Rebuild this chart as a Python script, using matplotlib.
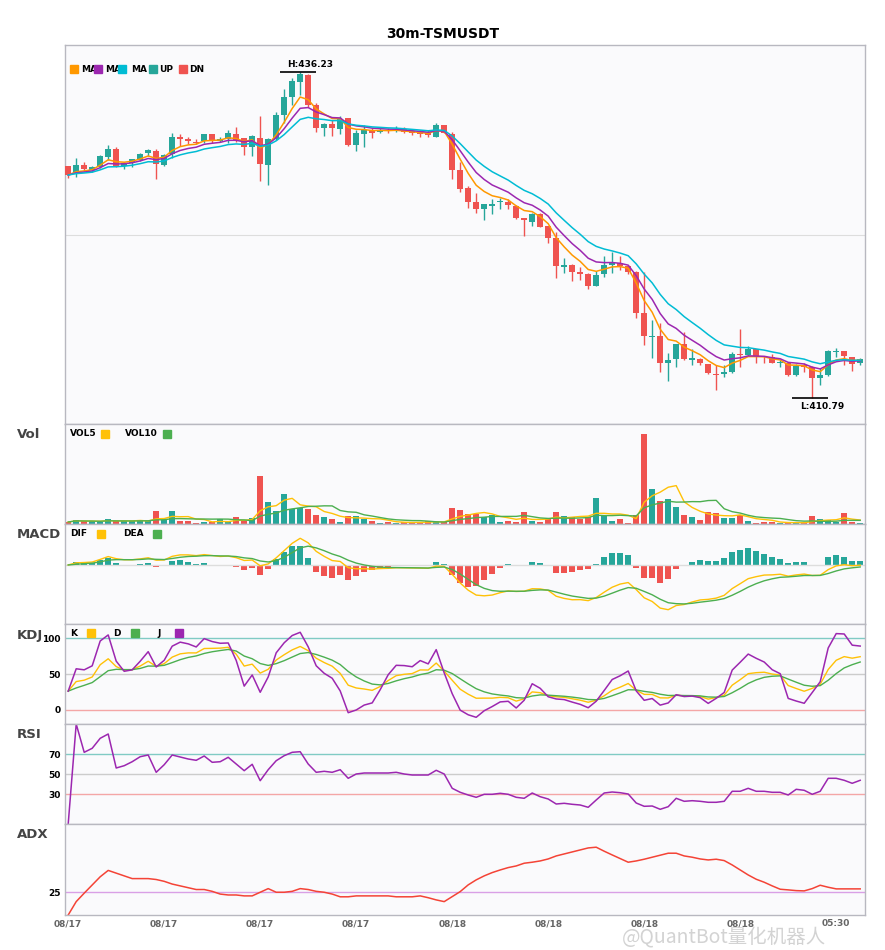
import numpy as np
import pandas as pd
import matplotlib
matplotlib.use("Agg")
import matplotlib.pyplot as plt
from matplotlib.patches import Rectangle

# 30m candles, TSMUSDT
open_ = [428.89, 428.33, 428.95, 428.58, 428.84, 429.62, 430.20, 428.89, 429.11, 429.36,
         429.93, 430.07, 428.97, 429.83, 431.16, 431.00, 430.79, 430.81, 431.38, 430.85,
         430.98, 431.39, 431.08, 430.40, 431.06, 428.97, 431.00, 432.87, 434.30, 435.47,
         436.03, 433.66, 431.90, 432.17, 431.78, 432.62, 430.53, 431.43, 431.70, 431.57,
         431.70, 431.65, 431.81, 431.65, 431.63, 431.49, 431.18, 432.09, 431.39, 428.58,
         427.15, 426.11, 425.54, 425.77, 426.09, 426.11, 425.77, 424.84, 424.55, 425.15,
         424.21, 423.25, 421.04, 421.17, 420.60, 420.47, 419.55, 420.44, 421.17, 421.30,
         421.11, 420.65, 417.42, 415.57, 415.63, 413.54, 413.81, 414.98, 413.75, 413.83,
         413.44, 412.66, 412.64, 412.84, 414.22, 414.15, 414.59, 414.01, 414.01, 413.50,
         413.50, 412.58, 413.36, 413.23, 412.33, 412.58, 414.40, 414.46, 413.97, 413.50]
high = [428.93, 429.50, 429.18, 428.89, 429.73, 430.53, 430.34, 429.23, 429.46, 429.89,
        430.20, 430.22, 429.81, 431.45, 431.39, 431.13, 430.98, 431.39, 431.41, 431.18,
        431.74, 431.91, 431.12, 431.29, 432.80, 431.08, 433.13, 434.88, 435.76, 436.23,
        436.07, 433.79, 432.23, 432.45, 432.76, 432.66, 431.70, 432.06, 431.86, 431.84,
        431.84, 432.02, 431.96, 431.70, 431.70, 431.70, 432.27, 432.13, 431.57, 429.23,
        427.33, 426.81, 425.95, 426.30, 426.37, 426.30, 425.85, 424.86, 425.20, 425.20,
        424.24, 423.77, 421.69, 421.25, 421.04, 420.52, 420.70, 421.87, 422.21, 421.87,
        421.17, 420.70, 420.65, 416.88, 416.62, 414.28, 415.00, 415.92, 414.59, 413.89,
        413.47, 413.36, 413.36, 414.40, 416.17, 414.85, 414.61, 414.07, 414.22, 413.75,
        413.52, 413.44, 413.50, 413.29, 413.11, 414.54, 414.67, 414.48, 414.01, 413.89]
low = [427.93, 428.01, 428.50, 428.45, 428.72, 429.36, 428.82, 428.64, 428.84, 429.28,
       429.64, 427.86, 428.93, 429.52, 430.46, 430.59, 430.59, 430.71, 430.71, 430.74,
       430.67, 430.77, 429.75, 429.64, 427.75, 427.41, 430.92, 432.27, 433.66, 434.44,
       433.52, 431.57, 431.24, 431.24, 431.39, 430.46, 430.10, 430.38, 431.08, 431.45,
       431.47, 431.52, 431.45, 431.29, 431.13, 431.13, 431.13, 431.45, 427.90, 426.89,
       425.59, 425.20, 424.68, 425.15, 425.52, 425.52, 424.74, 423.43, 424.21, 424.11,
       422.91, 420.18, 420.52, 419.92, 420.00, 419.27, 419.51, 420.21, 420.57, 420.78,
       420.47, 417.01, 414.93, 413.89, 412.84, 412.12, 413.23, 413.75, 413.36, 413.36,
       412.66, 411.41, 412.40, 412.76, 413.23, 414.07, 413.54, 413.50, 413.50, 413.23,
       412.53, 412.53, 412.84, 410.79, 411.80, 412.51, 414.01, 413.36, 412.92, 413.36]
close = [428.19, 428.97, 428.64, 428.79, 429.68, 430.22, 428.93, 429.11, 429.42, 429.81,
         430.14, 429.09, 429.79, 431.16, 431.00, 430.81, 430.71, 431.38, 430.96, 430.98,
         431.45, 430.92, 430.35, 431.21, 429.07, 431.04, 432.87, 434.28, 435.53, 436.07,
         433.66, 431.90, 432.17, 431.88, 432.56, 430.53, 431.49, 431.70, 431.49, 431.70,
         431.63, 431.73, 431.52, 431.45, 431.39, 431.31, 432.09, 431.49, 428.58, 427.08,
         426.11, 425.54, 425.93, 425.91, 426.16, 425.85, 424.86, 424.70, 425.15, 424.16,
         423.30, 421.11, 421.15, 420.65, 420.47, 419.55, 420.39, 421.17, 421.38, 421.09,
         420.65, 417.45, 415.65, 415.65, 413.50, 413.75, 414.98, 413.81, 413.91, 413.54,
         412.76, 412.58, 412.82, 414.22, 414.15, 414.61, 414.01, 413.97, 413.54, 413.57,
         412.58, 413.31, 413.19, 412.33, 412.58, 414.46, 414.48, 414.07, 413.42, 413.83]
volume = [200, 430, 270, 270, 200, 530, 270, 270, 270, 430,
          270, 1330, 430, 1330, 270, 330, 70, 230, 170, 500,
          200, 700, 270, 600, 4830, 2170, 1270, 3030, 1500, 1600,
          1530, 930, 670, 530, 230, 830, 830, 500, 270, 130,
          170, 70, 230, 170, 170, 300, 200, 230, 1630, 1430,
          1000, 1000, 670, 930, 170, 330, 230, 1230, 330, 170,
          500, 1230, 830, 670, 530, 670, 2630, 830, 330, 530,
          70, 930, 9030, 3530, 2330, 2530, 1730, 930, 730, 430,
          1230, 1130, 630, 630, 930, 330, 130, 230, 230, 70,
          70, 70, 170, 830, 530, 370, 230, 1130, 170, 70]
rsi = [0, 100, 71.7, 75.7, 85.7, 90, 56, 58.3, 62.3, 67.3,
       69, 51.7, 59.3, 69, 67, 65, 63.7, 68, 61.7, 62.3,
       66.7, 60, 53.3, 59.7, 43.3, 54.3, 63.3, 68.3, 71.7, 72.3,
       60, 51.7, 52.7, 51.7, 54.3, 45.7, 50, 51, 51, 51,
       51, 51.7, 50, 49, 49, 49, 53.7, 50, 35.7, 31.7,
       29, 26.7, 29.7, 29.7, 30.7, 29.7, 26.7, 25.7, 31, 27.3,
       25, 20, 20.7, 19.7, 19, 16.7, 24, 31, 32, 31.3,
       30, 21, 17.7, 18, 14.7, 17.3, 25.7, 22.7, 23.3, 22.7,
       21.7, 21.7, 22.7, 32.7, 32.7, 35.7, 32.7, 32.7, 31.7, 31.7,
       29, 34.7, 33.7, 29.7, 32.7, 45.7, 45.7, 43.7, 40.7, 43.7]
adx = [0, 14.7, 24, 33, 42, 49, 46, 43, 40, 40,
       40, 39, 37, 34, 32, 30, 28, 28, 26, 23,
       22, 22, 21, 21, 25, 29, 25, 25, 26, 29,
       28, 26, 25, 23, 20, 20, 21, 21, 21, 21,
       21, 20, 20, 20, 21, 19, 16.6, 14.7, 20.2, 25.7,
       33.1, 38.6, 43, 46.6, 49.5, 52.1, 53.9, 56.9, 58, 59.4,
       61.6, 64.9, 67.1, 69.3, 71.5, 73.7, 74.5, 70.1, 66, 62,
       58, 59.4, 61.3, 63.5, 65.7, 67.9, 67.9, 64.9, 63.5, 61.6,
       60.5, 61.3, 59.8, 55, 49.5, 44, 39.3, 36, 32, 28.3,
       27.6, 26.8, 26.5, 29, 32.7, 30.5, 28.7, 28.7, 28.7, 28.7]
tick_pos = [0, 12, 24, 36, 48, 60, 72, 84, 96]
tick_labels = ["08/17", "08/17", "08/17", "08/17", "08/18", "08/18", "08/18", "08/18", "05:30"]

df = pd.DataFrame({"open": open_, "high": high, "low": low, "close": close, "volume": volume})
x = np.arange(len(df))
up = df["close"] >= df["open"]

# indicators (fast settings, these line up with the source chart)
ma_fast = df["close"].ewm(span=5, adjust=False).mean()
ma_mid = df["close"].ewm(span=8, adjust=False).mean()
ma_slow = df["close"].ewm(span=13, adjust=False).mean()
vol5 = df["volume"].rolling(5, min_periods=1).mean()
vol10 = df["volume"].rolling(10, min_periods=1).mean()
dif = df["close"].ewm(span=6, adjust=False).mean() - df["close"].ewm(span=13, adjust=False).mean()
dea = dif.ewm(span=5, adjust=False).mean()
hist = 2 * (dif - dea)
low_n = df["low"].rolling(9, min_periods=1).min()
high_n = df["high"].rolling(9, min_periods=1).max()
rsv = (df["close"] - low_n) / (high_n - low_n) * 100
k = rsv.ewm(com=2, adjust=False).mean()
d = k.ewm(com=2, adjust=False).mean()
j = 3 * k - 2 * d

UP, DN = "#26a69a", "#ef5350"
C_MA = ["#ff9800", "#9c27b0", "#00bcd4"]
YEL, GRN, PUR = "#ffc107", "#4caf50", "#9c27b0"
BG = "#fafafc"
EDGE = "#b8b8c0"

W, H = 885, 950
fig = plt.figure(figsize=(W / 100, H / 100), dpi=100)


def panel(top, bottom):
    ax = fig.add_axes([65 / W, 1 - bottom / H, 800 / W, (bottom - top) / H])
    ax.set_facecolor(BG)
    for s in ax.spines.values():
        s.set_color(EDGE)
        s.set_linewidth(1)
    ax.set_xlim(-0.4, len(df) - 0.4)
    ax.tick_params(left=False, bottom=False, labelleft=False, labelbottom=False)
    return ax


def fx(px):
    return px / W


def fy(py):
    return 1 - py / H


def legend_item(px, py, label, color, sq_x):
    fig.text(fx(px), fy(py), label, fontsize=6.5, fontweight="bold", va="center", ha="left", zorder=3)
    fig.add_artist(Rectangle((fx(sq_x), fy(py + 4)), 8 / W, 8 / H, transform=fig.transFigure,
                             color=color, zorder=4))


# ---- price panel
ax = panel(45, 424)
colors = np.where(up, UP, DN)
ax.vlines(x, df["low"], df["high"], colors=colors, lw=1, zorder=2)
body = np.maximum((df["close"] - df["open"]).abs(), 0.03)
ax.bar(x, body, bottom=np.minimum(df["open"], df["close"]), width=0.72, color=colors, zorder=3)
for line, c in zip([ma_fast, ma_mid, ma_slow], C_MA):
    ax.plot(x, line, color=c, lw=1.1, zorder=4)
rng = df["high"].max() - df["low"].min()
lo, hi = df["low"].min() - 0.08 * rng, df["high"].max() + 0.083 * rng
ax.set_ylim(lo, hi)
ax.axhline((lo + hi) / 2, color="#dddddd", lw=0.8, zorder=1)
ih, il = int(df["high"].idxmax()), int(df["low"].idxmin())
ax.hlines(df["high"][ih], ih - 2.5, ih + 2, color="black", lw=1.2, zorder=5)
ax.annotate(f"H:{df['high'][ih]:.2f}", (ih + 1.3, df["high"][ih]), xytext=(0, 2.5),
            textcoords="offset points", ha="center", va="bottom", fontsize=6.5, fontweight="bold")
ax.hlines(df["low"][il], il - 2.5, il + 2, color="black", lw=1.2, zorder=5)
ax.annotate(f"L:{df['low'][il]:.2f}", (il + 1.3, df["low"][il]), xytext=(0, -3),
            textcoords="offset points", ha="center", va="top", fontsize=6.5, fontweight="bold")

legend_item(81, 69, "MA", C_MA[0], 70)
legend_item(105, 69, "MA", C_MA[1], 93.5)
legend_item(131, 69, "MA", C_MA[2], 117.5)
legend_item(159.5, 69, "UP", UP, 148.5)
legend_item(189.5, 69, "DN", DN, 178.5)

fig.text(0.5, fy(34), "30m-TSMUSDT", ha="center", va="center", fontsize=10, fontweight="bold")

# ---- volume
ax_v = panel(424, 524)
ax_v.bar(x, df["volume"], width=0.72, color=colors)
ax_v.plot(x, vol5, color=YEL, lw=1)
ax_v.plot(x, vol10, color=GRN, lw=1)
ax_v.set_ylim(0, df["volume"].max() * 1.105)
legend_item(70, 434, "VOL5", YEL, 101)
legend_item(125, 434, "VOL10", GRN, 163)

# ---- MACD
ax_m = panel(524, 624)
ax_m.axhline(0, color="#dddddd", lw=1)
ax_m.bar(x, hist, width=0.72, color=np.where(hist >= 0, UP, DN))
ax_m.plot(x, dif, color=YEL, lw=1)
ax_m.plot(x, dea, color=GRN, lw=1)
mlo = min(dif.min(), dea.min(), hist.min())
mhi = max(dif.max(), dea.max(), hist.max())
mr = mhi - mlo
ax_m.set_ylim(mlo - 0.2 * mr, mhi + 0.2 * mr)
legend_item(70, 534, "DIF", YEL, 97)
legend_item(123, 534, "DEA", GRN, 153)

# ---- KDJ
ax_k = panel(624, 724)
ax_k.axhline(100, color="#80cbc4", lw=1)
ax_k.axhline(50, color="#cccccc", lw=1)
ax_k.axhline(0, color="#f4a6a6", lw=1)
ax_k.plot(x, k, color=YEL, lw=1)
ax_k.plot(x, d, color=GRN, lw=1)
ax_k.plot(x, j, color=PUR, lw=1.1)
ax_k.set_ylim(-20, 120)
ax_k.set_yticks([0, 50, 100])
legend_item(70, 633, "K", YEL, 87)
legend_item(113, 633, "D", GRN, 131)
legend_item(157, 633, "J", PUR, 175)

# ---- RSI
ax_r = panel(724, 824)
ax_r.axhline(70, color="#80cbc4", lw=1)
ax_r.axhline(50, color="#cccccc", lw=1)
ax_r.axhline(30, color="#f4a6a6", lw=1)
ax_r.plot(x, rsi, color=PUR, lw=1.1)
ax_r.set_ylim(0, 100)
ax_r.set_yticks([30, 50, 70])

# ---- ADX
ax_a = panel(824, 915)
ax_a.axhline(25, color="#d9a0e6", lw=1)
ax_a.plot(x, adx, color="#f44336", lw=1.1)
ax_a.set_ylim(0, 100)
ax_a.set_yticks([25])
ax_a.set_xticks(tick_pos)
ax_a.set_xticklabels(tick_labels)
ax_a.tick_params(labelbottom=True, length=0, pad=2)
for lab in ax_a.get_xticklabels():
    lab.set_fontsize(6.5)
    lab.set_fontweight("bold")
    lab.set_color("#666666")

for a in (ax_k, ax_r, ax_a):
    a.tick_params(labelleft=True, length=0, pad=3)
    for lab in a.get_yticklabels():
        lab.set_fontsize(6.5)
        lab.set_fontweight("bold")

for name, py in [("Vol", 435), ("MACD", 535), ("KDJ", 635), ("RSI", 735), ("ADX", 835)]:
    fig.text(fx(17), fy(py), name, fontsize=9.5, fontweight="bold", color="#444444", va="center")

# screenshot watermark, kept just under the date labels
fig.text(fx(622), fy(938), "@QuantBot量化机器人", fontsize=14, color="#c8c8c8", alpha=0.8,
         va="center", family=["Noto Sans CJK SC", "DejaVu Sans"], zorder=6)

fig.savefig("out.png", dpi=100, facecolor="white")
